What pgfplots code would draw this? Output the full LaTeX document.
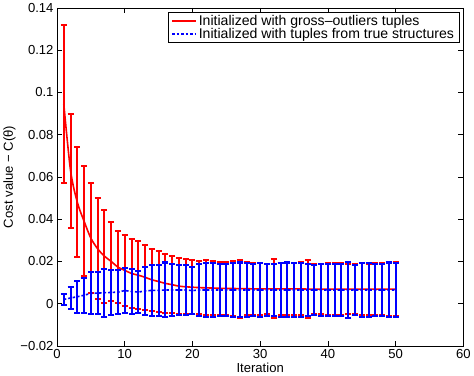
\documentclass[border=0pt]{standalone}
\usepackage{pgfplots}
\pgfplotsset{compat=1.18}
\usepackage{pgfplotstable}
\usepackage{fontspec}
\setmainfont{Liberation Sans}
\pgfplotstableread{
x m e
1 0.0945 0.0375
2 0.063 0.027
3 0.048 0.026
4 0.039 0.026
5 0.031 0.026
6 0.026 0.024
7 0.0225 0.022
8 0.020 0.0185
9 0.0173 0.0172
10 0.0158 0.0167
11 0.0143 0.0163
12 0.0135 0.016
13 0.0125 0.0155
14 0.0113 0.0148
15 0.0105 0.0145
16 0.0096 0.014
17 0.009 0.0135
18 0.0083 0.0133
19 0.008 0.013
20 0.0078 0.0127
21 0.0076 0.0125
22 0.0075 0.013
23 0.0074 0.0128
24 0.0073 0.0125
25 0.0072 0.0126
26 0.0072 0.013
27 0.0071 0.0138
28 0.0071 0.0125
29 0.007 0.0122
30 0.007 0.0123
31 0.007 0.012
32 0.007 0.014
33 0.007 0.0122
34 0.007 0.0125
35 0.007 0.0124
36 0.007 0.0125
37 0.0069 0.0136
38 0.0069 0.012
39 0.0069 0.0118
40 0.0069 0.0122
41 0.0069 0.0123
42 0.0069 0.0122
43 0.0069 0.012
44 0.0069 0.0118
45 0.0069 0.0122
46 0.0069 0.0121
47 0.0069 0.0122
48 0.0069 0.0124
49 0.0069 0.0125
50 0.0069 0.0128
}\redtab
\pgfplotstableread{
x m e
1 0.0020 0.0024
2 0.0027 0.0050
3 0.0033 0.0075
4 0.0040 0.0082
5 0.0049 0.0099
6 0.0050 0.0100
7 0.0052 0.0113
8 0.0053 0.0105
9 0.0055 0.0105
10 0.0062 0.0108
11 0.0058 0.0107
12 0.0055 0.0100
13 0.0060 0.0115
14 0.0063 0.0122
15 0.0063 0.0122
16 0.0065 0.0130
17 0.0065 0.0125
18 0.0065 0.0120
19 0.0065 0.0120
20 0.0062 0.0113
21 0.0065 0.0125
22 0.0065 0.0128
23 0.0065 0.0126
24 0.0065 0.0122
25 0.0065 0.0125
26 0.0065 0.0128
27 0.0065 0.0130
28 0.0065 0.0127
29 0.0065 0.0123
30 0.0065 0.0128
31 0.0065 0.0122
32 0.0065 0.0125
33 0.0065 0.0127
34 0.0065 0.0130
35 0.0065 0.0128
36 0.0065 0.0126
37 0.0065 0.0125
38 0.0065 0.0120
39 0.0065 0.0123
40 0.0065 0.0125
41 0.0065 0.0122
42 0.0065 0.0121
43 0.0065 0.0132
44 0.0065 0.0120
45 0.0065 0.0127
46 0.0065 0.0128
47 0.0065 0.0124
48 0.0065 0.0122
49 0.0065 0.0130
50 0.0065 0.0129
}\bluetab
\begin{document}
\begin{tikzpicture}
\begin{axis}[
  scale only axis,
  width=404bp, height=336bp,
  xmin=0, xmax=60, ymin=-0.02, ymax=0.14,
  xtick={0,10,20,30,40,50,60},
  ytick={-0.02,0,0.02,0.04,0.06,0.08,0.1,0.12,0.14},
  yticklabels={−0.02,0,0.02,0.04,0.06,0.08,0.1,0.12,0.14},
  scaled y ticks=false,
  /pgf/number format/assume math mode=true,
  tick align=inside,
  major tick length=5bp,
  tick style={black, line width=0.6pt},
  axis line style={line width=0.8pt},
  every tick label/.append style={font=\fontsize{13bp}{15bp}\selectfont},
  label style={font=\fontsize{13bp}{15bp}\selectfont},
  xlabel={Iteration},
  ylabel={Cost value − C(θ)},
  xlabel style={yshift=3bp},
  ylabel style={yshift=-2bp},
  legend style={at={(1,1)}, anchor=north east, xshift=-4bp, yshift=-4bp,
    font=\fontsize{14bp}{16bp}\selectfont, draw=black, line width=0.8pt,
    inner xsep=3bp, inner ysep=1bp, row sep=-3bp, cells={anchor=west}},
  legend image post style={xscale=1.4},
]
\addplot[draw=none, forget plot, error bars/.cd, y dir=both, y explicit,
  error bar style={line width=2bp, draw=red},
  error mark options={rotate=90, mark size=3bp, line width=2bp, draw=red}]
  table[x=x, y=m, y error=e] {\redtab};
\addplot[red, line width=1.6bp, smooth, mark=none] table[x=x, y=m] {\redtab};
\addlegendentry{Initialized with gross–outliers tuples}
\addplot[draw=none, forget plot, error bars/.cd, y dir=both, y explicit,
  error bar style={line width=2bp, draw=blue, solid},
  error mark options={rotate=90, mark size=3bp, line width=2bp, draw=blue, solid}]
  table[x=x, y=m, y error=e] {\bluetab};
\addplot[blue, line width=1.6bp, dash pattern=on 2.5pt off 2pt, mark=none] table[x=x, y=m] {\bluetab};
\addlegendentry{Initialized with tuples from true structures}
\end{axis}
\end{tikzpicture}
\end{document}
